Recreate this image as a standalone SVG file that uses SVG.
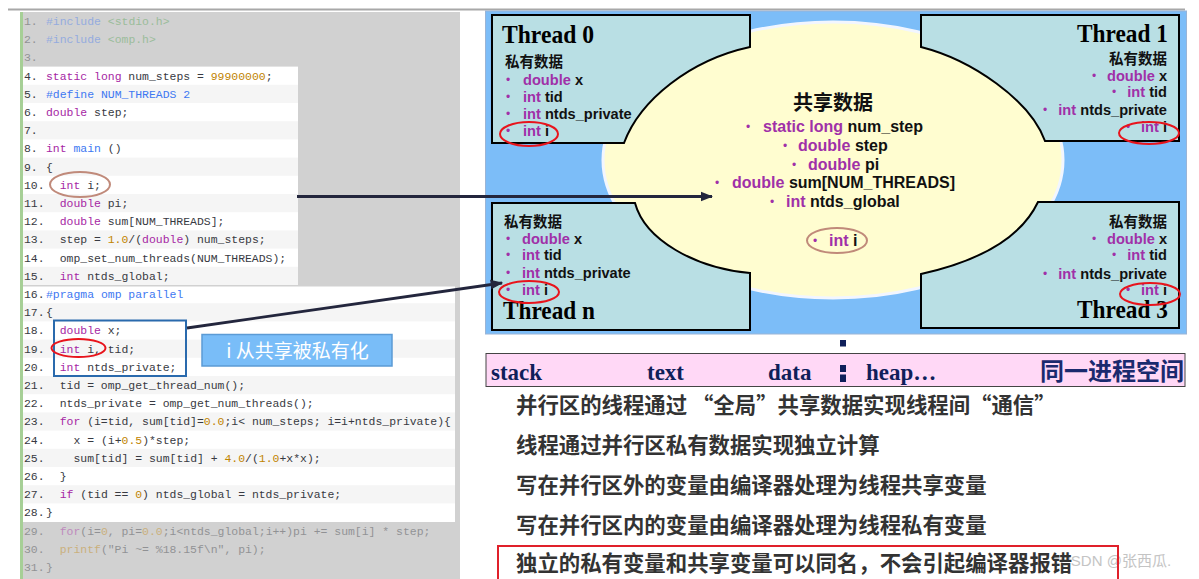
<svg xmlns="http://www.w3.org/2000/svg" width="1199" height="579" viewBox="0 0 1199 579">
<defs>
<marker id="arr" viewBox="0 0 10 10" refX="9" refY="5" markerWidth="4.5" markerHeight="4.5" orient="auto" markerUnits="strokeWidth">
<path d="M0,1.2 L10,5 L0,8.8 Z" fill="#23263d"/>
</marker>
<style>
.code{font-family:"Liberation Mono","DejaVu Sans Mono",monospace;font-size:11.45px;fill:#383a42}
.k{fill:#a626a4}
.n{fill:#c18401}
.b{fill:#4078f2}
.g{fill:#50a14f}
.fade{opacity:.42}
.stripe{fill:#f5f5f5}
.t{font-family:"Liberation Sans",Arial,sans-serif;font-weight:bold;font-size:14.6px;fill:#111}
.c{font-size:16px}
.bul{font-family:"Liberation Sans",Arial,sans-serif;font-size:12px;fill:#a030a8}
.kw{fill:#a030a8}
.title{font-family:"Liberation Serif","Times New Roman",serif;font-weight:bold;font-size:26px;fill:#000}
.cjk{font-family:"Noto Sans CJK SC",sans-serif;font-weight:bold}
.thread{fill:#b9dfe4;stroke:#000;stroke-width:2}
.red{fill:none;stroke:#e8141c;stroke-width:2}
.brown{fill:none;stroke:#c08a7a;stroke-width:2}
.seg{font-family:"Liberation Serif","Times New Roman",serif;font-weight:bold;font-size:23px;fill:#0f1f5a}
.note{font-family:"Noto Sans CJK SC",sans-serif;font-weight:bold;font-size:21.4px;fill:#333}
.conn{stroke:#23263d;stroke-width:2.8;fill:none;marker-end:url(#arr)}
</style>
</defs>
<rect width="1199" height="579" fill="#fff"/>
<line x1="8" y1="9.5" x2="1185" y2="9.5" stroke="#a8a8a8" stroke-width="2"/>

<!-- code panel -->
<g id="code">
<rect x="20" y="12" width="440" height="567" fill="#d1d1d1"/>
<rect x="20" y="12" width="3" height="567" fill="#a6cf96"/>
<rect x="23" y="66.6" width="275" height="218.4" fill="#fff"/>
<rect x="23" y="84.8" width="275" height="18.2" class="stripe"/>
<rect x="23" y="121.2" width="275" height="18.2" class="stripe"/>
<rect x="23" y="157.6" width="275" height="18.2" class="stripe"/>
<rect x="23" y="194" width="275" height="18.2" class="stripe"/>
<rect x="23" y="230.4" width="275" height="18.2" class="stripe"/>
<rect x="23" y="266.8" width="275" height="18.2" class="stripe"/>
<rect x="23" y="286.5" width="432" height="235.5" fill="#fff"/>
<rect x="23" y="303.2" width="432" height="18.2" class="stripe"/>
<rect x="23" y="339.6" width="432" height="18.2" class="stripe"/>
<rect x="23" y="376" width="432" height="18.2" class="stripe"/>
<rect x="23" y="412.4" width="432" height="18.2" class="stripe"/>
<rect x="23" y="448.8" width="432" height="18.2" class="stripe"/>
<rect x="23" y="485.2" width="432" height="18.2" class="stripe"/>

<text class="code fade" y="25"><tspan x="24">1.</tspan><tspan x="46" class="b">#include</tspan><tspan class="g"> &lt;stdio.h&gt;</tspan></text>
<text class="code fade" y="43.2"><tspan x="24">2.</tspan><tspan x="46" class="b">#include</tspan><tspan class="g"> &lt;omp.h&gt;</tspan></text>
<text class="code fade" y="61.4"><tspan x="24">3.</tspan></text>
<text class="code" y="79.6"><tspan x="24">4.</tspan><tspan x="46" class="k">static long</tspan> num_steps = <tspan class="n">99900000</tspan>;</text>
<text class="code" y="97.8"><tspan x="24">5.</tspan><tspan x="46" class="b">#define NUM_THREADS 2</tspan></text>
<text class="code" y="116"><tspan x="24">6.</tspan><tspan x="46" class="k">double</tspan> step;</text>
<text class="code" y="134.2"><tspan x="24">7.</tspan></text>
<text class="code" y="152.4"><tspan x="24">8.</tspan><tspan x="46" class="k">int</tspan> <tspan class="b">main</tspan> ()</text>
<text class="code" y="170.6"><tspan x="24">9.</tspan><tspan x="46">{</tspan></text>
<text class="code" y="188.8"><tspan x="24">10.</tspan><tspan x="59.7" class="k">int</tspan> i;</text>
<text class="code" y="207"><tspan x="24">11.</tspan><tspan x="59.7" class="k">double</tspan> pi;</text>
<text class="code" y="225.2"><tspan x="24">12.</tspan><tspan x="59.7" class="k">double</tspan> sum[NUM_THREADS];</text>
<text class="code" y="243.4"><tspan x="24">13.</tspan><tspan x="59.7">step = </tspan><tspan class="n">1.0</tspan>/(<tspan class="k">double</tspan>) num_steps;</text>
<text class="code" y="261.6"><tspan x="24">14.</tspan><tspan x="59.7">omp_set_num_threads(NUM_THREADS);</tspan></text>
<text class="code" y="279.8"><tspan x="24">15.</tspan><tspan x="59.7" class="k">int</tspan> ntds_global;</text>
<text class="code" y="298"><tspan x="24">16.</tspan><tspan x="46" class="b">#pragma omp parallel</tspan></text>
<text class="code" y="316.2"><tspan x="24">17.</tspan><tspan x="46">{</tspan></text>
<text class="code" y="334.4"><tspan x="24">18.</tspan><tspan x="59.7" class="k">double</tspan> x;</text>
<text class="code" y="352.6"><tspan x="24">19.</tspan><tspan x="59.7" class="k">int</tspan> i, tid;</text>
<text class="code" y="370.8"><tspan x="24">20.</tspan><tspan x="59.7" class="k">int</tspan> ntds_private;</text>
<text class="code" y="389"><tspan x="24">21.</tspan><tspan x="59.7">tid = omp_get_thread_num();</tspan></text>
<text class="code" y="407.2"><tspan x="24">22.</tspan><tspan x="59.7">ntds_private = omp_get_num_threads();</tspan></text>
<text class="code" y="425.4"><tspan x="24">23.</tspan><tspan x="59.7" class="k">for</tspan> (i=tid, sum[tid]=<tspan class="n">0.0</tspan>;i&lt; num_steps; i=i+ntds_private){</text>
<text class="code" y="443.6"><tspan x="24">24.</tspan><tspan x="73.5">x = (i+</tspan><tspan class="n">0.5</tspan>)*step;</text>
<text class="code" y="461.8"><tspan x="24">25.</tspan><tspan x="73.5">sum[tid] = sum[tid] + </tspan><tspan class="n">4.0</tspan>/(<tspan class="n">1.0</tspan>+x*x);</text>
<text class="code" y="480"><tspan x="24">26.</tspan><tspan x="59.7">}</tspan></text>
<text class="code" y="498.2"><tspan x="24">27.</tspan><tspan x="59.7" class="k">if</tspan> (tid == <tspan class="n">0</tspan>) ntds_global = ntds_private;</text>
<text class="code" y="516.4"><tspan x="24">28.</tspan><tspan x="46">}</tspan></text>
<text class="code fade" y="534.6"><tspan x="24">29.</tspan><tspan x="59.7" class="k">for</tspan>(i=<tspan class="n">0</tspan>, pi=<tspan class="n">0.0</tspan>;i&lt;ntds_global;i++)pi += sum[i] * step;</text>
<text class="code fade" y="552.8"><tspan x="24">30.</tspan><tspan x="59.7" class="n">printf</tspan>(&quot;Pi ~= %18.15f\n&quot;, pi);</text>
<text class="code fade" y="571"><tspan x="24">31.</tspan><tspan x="46">}</tspan></text>

<ellipse cx="80" cy="184.5" rx="30" ry="12.5" class="brown" stroke-width="1.6"/>
<rect x="54" y="320.5" width="132" height="55.5" fill="none" stroke="#2a6aad" stroke-width="2"/>
<ellipse cx="78.5" cy="348" rx="27" ry="9" class="red"/>
</g>

<g id="label">
<rect x="202" y="334.5" width="190" height="31.5" fill="#79bdf8" stroke="#5b9bd5" stroke-width="1.5"/>
<text x="297.5" y="358" text-anchor="middle" font-family="'Noto Sans CJK SC',sans-serif" font-size="19" fill="#fff">i 从共享被私有化</text>
</g>

<!-- right panel -->
<g id="panel">
<rect x="485.5" y="11" width="701" height="323" fill="#7cbdf8" stroke="#9ab4d6" stroke-width="1"/>
</g>
<g id="shared">
<ellipse cx="833" cy="160" rx="230" ry="138" fill="#fffdd0" stroke="#f2f6ff" stroke-width="3"/>
<text class="cjk" x="833" y="110" text-anchor="middle" font-size="20" fill="#111">共享数据</text>
<text class="bul" x="746" y="131">•</text>
<text class="t c" x="763" y="132"><tspan class="kw">static long</tspan> num_step</text>
<text class="bul" x="783" y="150">•</text>
<text class="t c" x="798" y="151"><tspan class="kw">double</tspan> step</text>
<text class="bul" x="792" y="169">•</text>
<text class="t c" x="808" y="170"><tspan class="kw">double</tspan> pi</text>
<text class="bul" x="715" y="187">•</text>
<text class="t c" x="732" y="188"><tspan class="kw">double</tspan> sum[NUM_THREADS]</text>
<text class="bul" x="770" y="206">•</text>
<text class="t c" x="786" y="207"><tspan class="kw">int</tspan> ntds_global</text>
<text class="bul" x="813" y="245">•</text>
<text class="t c" x="829" y="246"><tspan class="kw">int</tspan> i</text>
<ellipse cx="837" cy="240.5" rx="30" ry="12.5" class="brown"/>
</g>

<g id="thread0">
<path class="thread" d="M492,15 H750 V47 C690,60 640,100 624,143 H492 Z"/>
<text class="title" x="502" y="43" textLength="92" lengthAdjust="spacingAndGlyphs">Thread 0</text>
<text class="cjk" x="505" y="67" font-size="14.5" fill="#111">私有数据</text>
<text class="bul" x="506" y="84">•</text>
<text class="t" x="523" y="85"><tspan class="kw">double</tspan> x</text>
<text class="bul" x="506" y="101">•</text>
<text class="t" x="523" y="102"><tspan class="kw">int</tspan> tid</text>
<text class="bul" x="506" y="118">•</text>
<text class="t" x="523" y="119"><tspan class="kw">int</tspan> ntds_private</text>
<text class="bul" x="506" y="135">•</text>
<text class="t" x="523" y="136"><tspan class="kw">int</tspan> i</text>
<ellipse cx="529" cy="134" rx="29" ry="12" class="red"/>
</g>

<g id="thread1">
<path class="thread" d="M921,15 H1179 V141 H1045 C1030,100 972,60 921,47 Z"/>
<text class="title" x="1168" y="42" text-anchor="end" textLength="91" lengthAdjust="spacingAndGlyphs">Thread 1</text>
<text class="cjk" x="1167" y="64" text-anchor="end" font-size="14.5" fill="#111">私有数据</text>
<text class="bul" x="1092" y="80">•</text>
<text class="t" x="1167" y="81" text-anchor="end"><tspan class="kw">double</tspan> x</text>
<text class="bul" x="1112" y="96">•</text>
<text class="t" x="1167" y="97" text-anchor="end"><tspan class="kw">int</tspan> tid</text>
<text class="bul" x="1043" y="114">•</text>
<text class="t" x="1167" y="115" text-anchor="end"><tspan class="kw">int</tspan> ntds_private</text>
<text class="bul" x="1126" y="131">•</text>
<text class="t" x="1167" y="132" text-anchor="end"><tspan class="kw">int</tspan> i</text>
<ellipse cx="1149" cy="133" rx="30" ry="11" class="red"/>
</g>

<g id="threadn">
<path class="thread" d="M492,203 H635 C645,240 695,268 750,273 V330 H492 Z"/>
<text class="cjk" x="504" y="227" font-size="14.5" fill="#111">私有数据</text>
<text class="bul" x="506" y="243">•</text>
<text class="t" x="522" y="244"><tspan class="kw">double</tspan> x</text>
<text class="bul" x="506" y="259">•</text>
<text class="t" x="522" y="260"><tspan class="kw">int</tspan> tid</text>
<text class="bul" x="506" y="277">•</text>
<text class="t" x="522" y="278"><tspan class="kw">int</tspan> ntds_private</text>
<text class="bul" x="506" y="294">•</text>
<text class="t" x="522" y="295"><tspan class="kw">int</tspan> i</text>
<text class="title" x="503" y="319" textLength="92" lengthAdjust="spacingAndGlyphs">Thread n</text>
<ellipse cx="529" cy="292" rx="30" ry="11" class="red"/>
</g>

<g id="thread3">
<path class="thread" d="M1038,202 H1179 V328 H921 V274 C975,262 1020,240 1038,202 Z"/>
<text class="cjk" x="1167" y="227" text-anchor="end" font-size="14.5" fill="#111">私有数据</text>
<text class="bul" x="1092" y="243">•</text>
<text class="t" x="1167" y="244" text-anchor="end"><tspan class="kw">double</tspan> x</text>
<text class="bul" x="1112" y="259">•</text>
<text class="t" x="1167" y="260" text-anchor="end"><tspan class="kw">int</tspan> tid</text>
<text class="bul" x="1043" y="278">•</text>
<text class="t" x="1167" y="279" text-anchor="end"><tspan class="kw">int</tspan> ntds_private</text>
<text class="bul" x="1126" y="294">•</text>
<text class="t" x="1167" y="295" text-anchor="end"><tspan class="kw">int</tspan> i</text>
<text class="title" x="1168" y="318" text-anchor="end" textLength="91" lengthAdjust="spacingAndGlyphs">Thread 3</text>
<ellipse cx="1150" cy="294" rx="30" ry="11" class="red"/>
</g>

<g id="connectors">
<line class="conn" x1="297" y1="196.5" x2="712" y2="196.5"/>
<line class="conn" x1="187" y1="328" x2="502" y2="283"/>
</g>

<g id="memory">
<rect x="486" y="353.5" width="699" height="33" fill="#ffd8f6" stroke="#444" stroke-width="1"/>
<text class="seg" x="491" y="380">stack</text>
<text class="seg" x="647" y="380">text</text>
<text class="seg" x="768" y="380">data</text>
<text class="seg" x="866" y="380">heap…</text>
<text class="cjk" x="1184" y="380" text-anchor="end" font-size="24" fill="#1a2a6e">同一进程空间</text>
<rect x="840" y="340" width="6" height="6.5" fill="#0f1f5a"/>
<rect x="840" y="365" width="6" height="7" fill="#0f1f5a"/>
<rect x="840" y="374.5" width="6" height="7.5" fill="#0f1f5a"/>
</g>

<g id="notes">
<text x="1060" y="566" font-family="'Liberation Sans','Noto Sans CJK SC',sans-serif" font-size="15" fill="#c4c4c4">CSDN @张西瓜.</text>
<text class="note" x="516" y="413">并行区的线程通过 “全局”共享数据实现线程间“通信”</text>
<text class="note" x="516" y="453">线程通过并行区私有数据实现独立计算</text>
<text class="note" x="516" y="493">写在并行区外的变量由编译器处理为线程共享变量</text>
<text class="note" x="516" y="533">写在并行区内的变量由编译器处理为线程私有变量</text>
<text class="note" x="516" y="571">独立的私有变量和共享变量可以同名，不会引起编译器报错</text>
<rect x="498" y="546" width="620" height="40" fill="none" stroke="#e0202a" stroke-width="2"/>
</g>
</svg>
